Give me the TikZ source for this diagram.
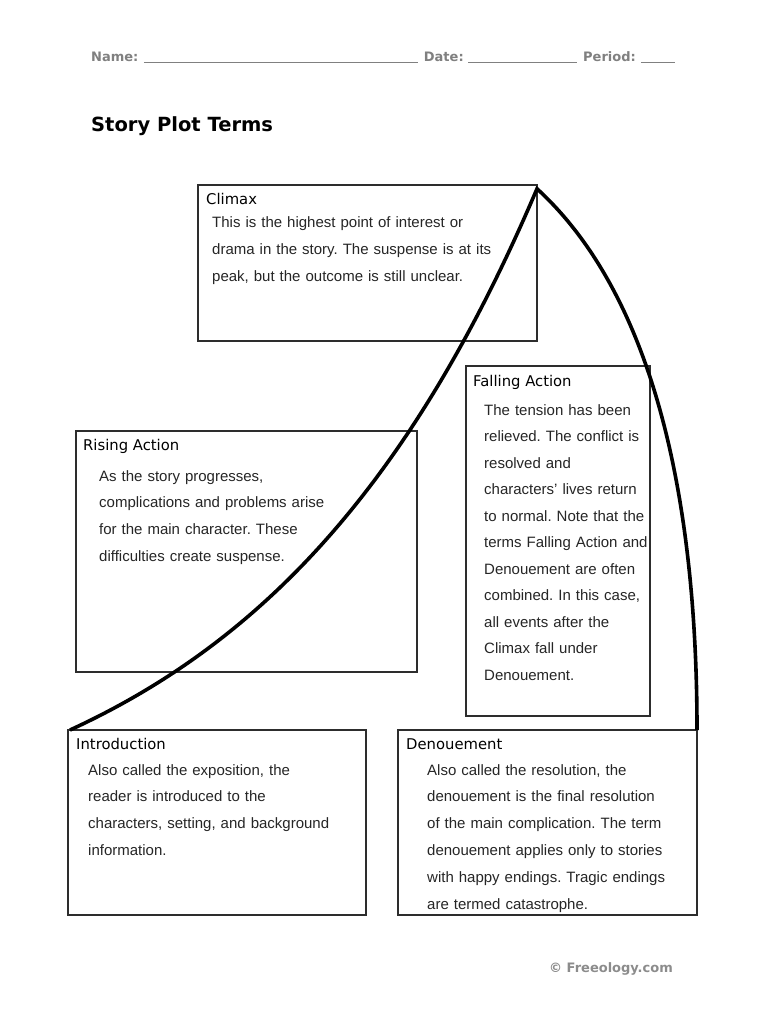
\documentclass[tikz,border=0pt]{standalone}
\usepackage{fontspec}
\setmainfont{Liberation Sans}
\newfontfamily\tfont{DejaVu Sans}
\definecolor{headgray}{RGB}{128,128,128}
\definecolor{footgray}{RGB}{140,140,140}
\definecolor{boxline}{RGB}{45,45,45}
\frenchspacing
\begin{document}
\begin{tikzpicture}[x=1pt,y=-1pt,
  box/.style={draw=boxline,line width=1.2pt,inner sep=0pt,outer sep=0pt,anchor=north west},
  boxtitle/.style={font=\tfont\fontsize{14.8}{17}\selectfont,inner sep=0pt,anchor=base west},
  body/.style={font=\fontsize{15}{26.7}\selectfont,text=black!85,inner sep=0pt,anchor=base west,text width=320pt,align=left},
  plotline/.style={line width=3.6pt,line cap=butt,line join=miter}]

\fill[white] (0,0) rectangle (768,1024);
\useasboundingbox (0,0) rectangle (768,1024);

% header
\node[anchor=base west,inner sep=0pt,text=headgray,font=\tfont\bfseries\fontsize{13}{15}\selectfont] (header) at (91,62)
  {Name:\hspace{5.5pt}\rule[-1pt]{274pt}{1.3pt}\hspace{6pt}Date:\hspace{4.5pt}\rule[-1pt]{109pt}{1.3pt}\hspace{6pt}Period:\hspace{5pt}\rule[-1pt]{34pt}{1.3pt}};

% title
\node[anchor=base west,inner sep=0pt,font=\tfont\bfseries\fontsize{19.5}{22}\selectfont] (title) at (91,132) {Story Plot Terms};

% boxes
\node[box,minimum width=339pt,minimum height=156pt] (climax) at (198,185) {};
\node[box,minimum width=341pt,minimum height=241pt] (rising) at (76,431) {};
\node[box,minimum width=184pt,minimum height=350pt] (falling) at (466,366) {};
\node[box,minimum width=298pt,minimum height=185pt] (intro) at (68,730) {};
\node[box,minimum width=299pt,minimum height=185pt] (denoue) at (398,730) {};

% plot curve: exponential rise to the climax, then a falling arc to the denouement
\coordinate (fc1) at (646.5,289);
\coordinate (fc2) at (697,480);
\coordinate (fend) at (697,730);
\draw[plotline] plot[domain=70:537,samples=80,smooth] (\x,{730-131.6*(exp(0.0035*(\x-70))-1)})
  coordinate (peak) .. controls (fc1) and (fc2) .. (fend);

% titles
\node[boxtitle] (climaxT) at (206,205) {Climax};
\node[boxtitle] (risingT) at (83,450) {Rising Action};
\node[boxtitle] (fallingT) at (473,386) {Falling Action};
\node[boxtitle] (introT) at (76,749) {Introduction};
\node[boxtitle] (denoueT) at (406,749) {Denouement};

% bodies
\node[body] (climaxB) at (212,228) {This is the highest point of interest or\\
drama in the story. The suspense is at its\\
peak, but the outcome is still unclear.};
\node[body] (risingB) at (99,481) {As the story progresses,\\
complications and problems arise\\
for the main character. These\\
difficulties create suspense.};
\node[body,font=\fontsize{15}{26.5}\selectfont] (fallingB) at (484,415) {The tension has been\\
relieved. The conflict is\\
resolved and\\
characters’ lives return\\
to normal. Note that the\\
terms Falling Action and\\
Denouement are often\\
combined. In this case,\\
all events after the\\
Climax fall under\\
Denouement.};
\node[body] (introB) at (88,775) {Also called the exposition, the\\
reader is introduced to the\\
characters, setting, and background\\
information.};
\node[body,font=\fontsize{15}{26.9}\selectfont] (denoueB) at (427,775) {Also called the resolution, the\\
denouement is the final resolution\\
of the main complication. The term\\
denouement applies only to stories\\
with happy endings. Tragic endings\\
are termed catastrophe.};

% footer
\node[anchor=base west,inner sep=0pt,text=footgray,font=\tfont\bfseries\fontsize{13}{15}\selectfont] (footer) at (549,972) {© Freeology.com};
\end{tikzpicture}
\end{document}
